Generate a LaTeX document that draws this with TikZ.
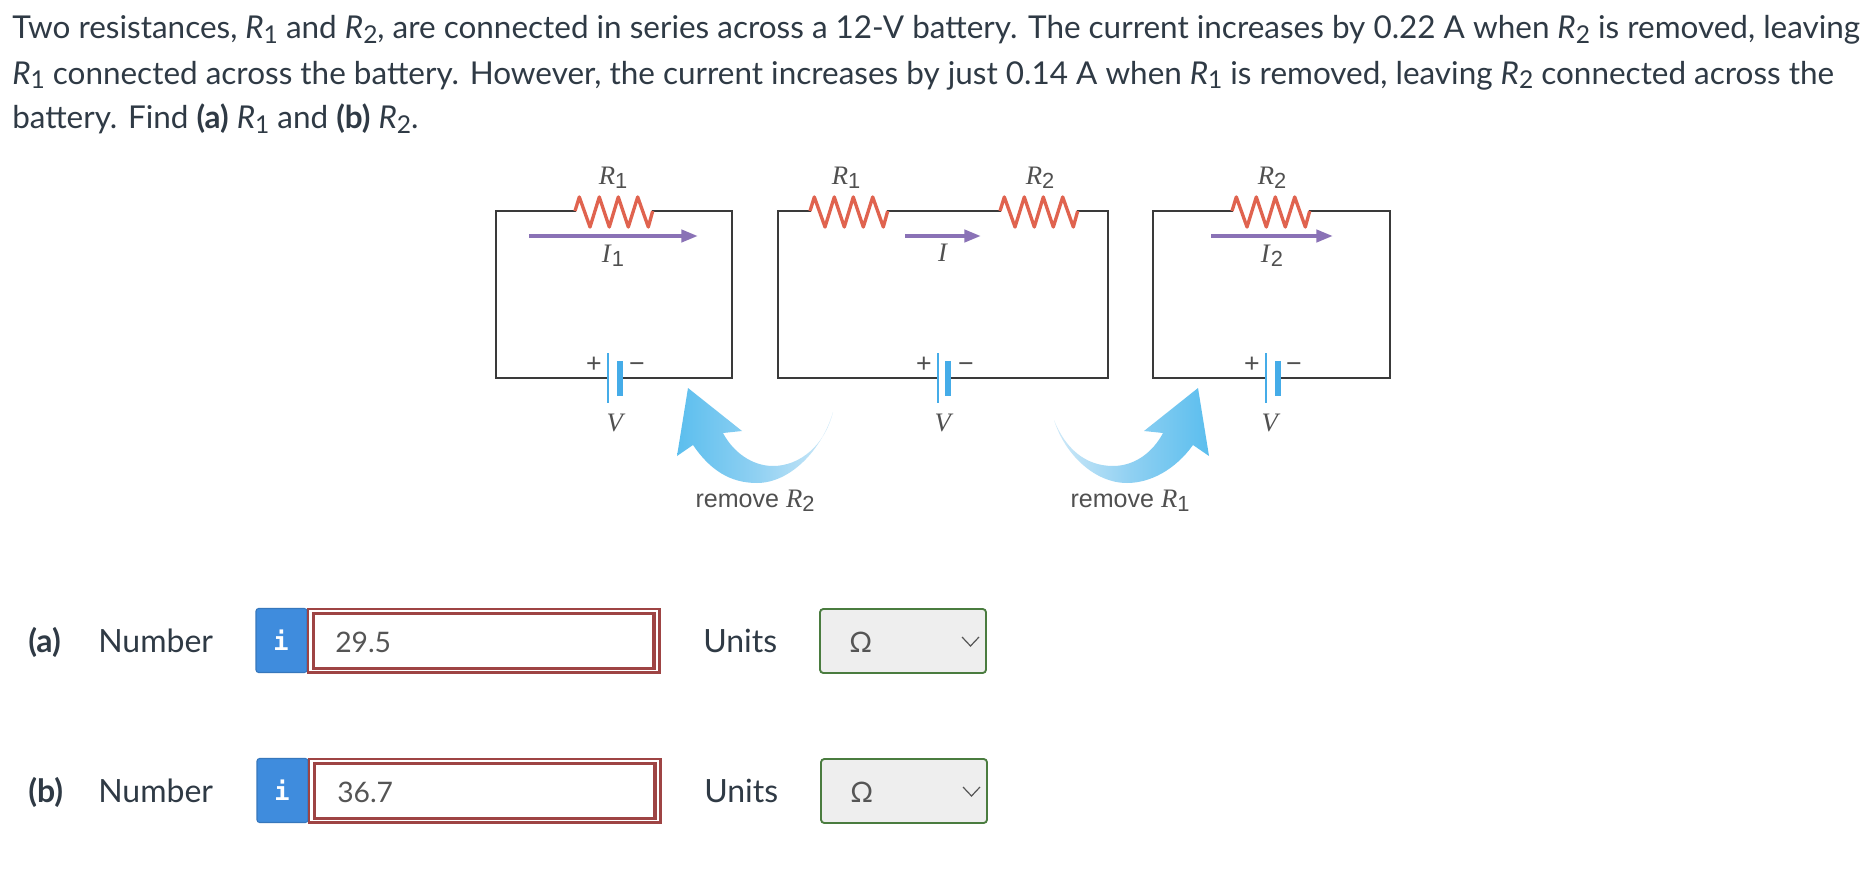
\documentclass[tikz,border=0pt]{standalone}
\usepackage{fontspec}
\setmainfont{Lato}
\newfontfamily\figserif{Liberation Serif}
\newfontfamily\figsans{Liberation Sans}
\newfontfamily\iconfont{DejaVu Sans Mono}
\usetikzlibrary{arrows.meta}
\definecolor{ink}{HTML}{2F3A45}
\definecolor{wirec}{HTML}{3A3A3A}
\definecolor{resc}{HTML}{E0634F}
\definecolor{purp}{HTML}{8A72B6}
\definecolor{batt}{HTML}{45ACE8}
\definecolor{figtxt}{HTML}{505050}
\definecolor{btnblue}{HTML}{3F8CDD}
\definecolor{redb}{HTML}{9E4444}
\definecolor{greenb}{HTML}{4A7C3F}
\definecolor{selbg}{HTML}{EEEEEE}
\definecolor{valc}{HTML}{555555}
\definecolor{swa}{HTML}{4AAEE8}
\definecolor{swb}{HTML}{5BBEEE}
\definecolor{swc}{HTML}{8FD0F2}
\definecolor{swd}{HTML}{CFE9F8}
\pgfdeclarehorizontalshading{swooshL}{100bp}{color(0bp)=(swa); color(25bp)=(swb); color(50bp)=(swc); color(75bp)=(swd); color(100bp)=(white)}
\pgfdeclarehorizontalshading{swooshR}{100bp}{color(0bp)=(white); color(25bp)=(swd); color(50bp)=(swc); color(75bp)=(swb); color(100bp)=(swa)}
\newcommand{\qR}[1]{\textit{R}\raisebox{-0.28ex}{\scalebox{.78}{#1}}}
\newcommand{\fR}[2]{\textit{#1}\raisebox{-0.35ex}{\scalebox{.82}{\figsans #2}}}
\newcommand{\zig}{(0,211) -- (4.3,197) -- (15,227) -- (24.3,197) -- (34.3,227) -- (43.3,197) -- (53.3,227) -- (62.7,197) -- (73.3,227) -- (77.7,211)}
\tikzset{
  x=.75pt, y=-.75pt,
  qtext/.style={anchor=base west, inner sep=0, text=ink, font=\fontsize{23.6pt}{27pt}\selectfont},
  rowtext/.style={anchor=base west, inner sep=0, text=ink, font=\fontsize{24pt}{27pt}\selectfont},
  wire/.style={draw=wirec, line width=2.2pt, line cap=rect, line join=miter},
  resist/.style={draw=resc, line width=2.5pt, line join=round},
  current/.style={draw=purp, line width=3pt, -{Triangle[length=12.5pt,width=9pt]}},
  thinplate/.style={draw=batt, line width=1.3pt},
  thickplate/.style={draw=batt, line width=4.5pt},
  figlabel/.style={inner sep=0, text=figtxt, font=\fontsize{20pt}{22pt}\selectfont\figserif},
  sign/.style={inner sep=0, text=figtxt, font=\fontsize{20pt}{22pt}\selectfont\figsans},
  rmlabel/.style={inner sep=0, text=figtxt, font=\fontsize{18.8pt}{22pt}\selectfont\figsans},
  infobtn/.style={fill=btnblue, draw=btnblue!85!black, line width=.8pt, rounded corners=2pt},
  outerred/.style={draw=redb, line width=1.9pt},
  innerred/.style={draw=redb, line width=2.4pt, fill=white},
  selectbox/.style={draw=greenb, fill=selbg, line width=1.4pt, rounded corners=2.5pt},
  chevron/.style={draw=valc, line width=.9pt},
  val/.style={anchor=base west, inner sep=0, text=valc, font=\fontsize{21.2pt}{25pt}\selectfont},
}
\begin{document}
\begin{tikzpicture}
\useasboundingbox (0,0) rectangle (1876,880);
\fill[white] (0,0) rectangle (1876,880);
% question
\node[qtext] (l1) at (12,39) {Two resistances, \qR{1} and \qR{2}, are connected in series across a 12-V battery. The current increases by 0.22 A when \qR{2} is removed, leaving};
\node[qtext] (l2) at (12,84.5) {\qR{1} connected across the battery. However, the current increases by just 0.14 A when \qR{1} is removed, leaving \qR{2} connected across the};
\node[qtext] (l3) at (12,129) {battery. Find \textbf{(a)} \qR{1} and \textbf{(b)} \qR{2}.};
% circuit 1
\draw[wire] (575,211) -- (496,211) -- (496,378) -- (608,378);
\draw[wire] (620,378) -- (732,378) -- (732,211) -- (653,211);
\draw[resist,shift={(575,0)}] \zig;
\coordinate (c1s) at (529,236); \coordinate (c1e) at (698,236);
\draw[current] (c1s) -- (c1e);
\node[figlabel] (r1a) at (613,178) {\fR{R}{1}};
\node[figlabel] (i1) at (613,256) {\fR{I}{1}};
\draw[thinplate] (608,353) -- (608,403);
\draw[thickplate] (620,361) -- (620,396);
\node[sign] (p1) at (594,365) {+};
\node[sign] (m1) at (637,368) {\textminus};
\node[figlabel] (v1) at (616,423) {\textit{V}};
% circuit 2
\draw[wire] (810,211) -- (778,211) -- (778,378) -- (938,378);
\draw[wire] (948,378) -- (1108,378) -- (1108,211) -- (1078,211);
\draw[wire] (888,211) -- (1000,211);
\draw[resist,shift={(810,0)}] \zig;
\draw[resist,shift={(1000,0)}] \zig;
\coordinate (c2s) at (905,236); \coordinate (c2e) at (981,236);
\draw[current] (c2s) -- (c2e);
\node[figlabel] (r1b) at (846,178) {\fR{R}{1}};
\node[figlabel] (r2b) at (1040,178) {\fR{R}{2}};
\node[figlabel] (i0) at (943,253) {\textit{I}};
\draw[thinplate] (938,353) -- (938,403);
\draw[thickplate] (948,361) -- (948,396);
\node[sign] (p2) at (924,365) {+};
\node[sign] (m2) at (966,368) {\textminus};
\node[figlabel] (v2) at (944,423) {\textit{V}};
% circuit 3
\draw[wire] (1232,211) -- (1153,211) -- (1153,378) -- (1266,378);
\draw[wire] (1278,378) -- (1390,378) -- (1390,211) -- (1310,211);
\draw[resist,shift={(1232,0)}] \zig;
\coordinate (c3s) at (1211,236); \coordinate (c3e) at (1333,236);
\draw[current] (c3s) -- (c3e);
\node[figlabel] (r2c) at (1272,178) {\fR{R}{2}};
\node[figlabel] (i2) at (1272,256) {\fR{I}{2}};
\draw[thinplate] (1266,353) -- (1266,403);
\draw[thickplate] (1278,361) -- (1278,396);
\node[sign] (p3) at (1252,365) {+};
\node[sign] (m3) at (1294,368) {\textminus};
\node[figlabel] (v3) at (1271,423) {\textit{V}};
% swooshes
\shade[shading=swooshL] (688,388) -- (677,456) -- (693,445) .. controls (710,470) and (730,483) .. (757,483) .. controls (790,483) and (822,450) .. (833,412) .. controls (825,445) and (800,466) .. (773,466) .. controls (752,466) and (733,452) .. (723,433) -- (742,431) -- cycle;
\shade[shading=swooshR] (1198,388) -- (1209,456) -- (1193,445) .. controls (1175,470) and (1150,483) .. (1127,483) .. controls (1095,483) and (1065,455) .. (1054,420) .. controls (1065,448) and (1085,466) .. (1113,466) .. controls (1135,466) and (1153,452) .. (1163,433) -- (1144,431) -- cycle;
\node[rmlabel] (rm2) at (755,501) {remove {\figserif\fontsize{20pt}{22pt}\selectfont\fR{R}{2}}};
\node[rmlabel] (rm1) at (1130,501) {remove {\figserif\fontsize{20pt}{22pt}\selectfont\fR{R}{1}}};
% row a
\node[rowtext] (la) at (28,652) {\textbf{(a)}};
\node[rowtext] (na) at (98,652) {Number};
\draw[infobtn] (256,608.5) rectangle (307,672.5);
\node[inner sep=0, text=white, font=\fontsize{19pt}{20pt}\selectfont\iconfont\bfseries] (ia) at (281,640) {i};
\draw[outerred,fill=white] (308,609) rectangle (659.5,672.5);
\draw[innerred] (313.5,613.5) rectangle (654,668.5);
\node[val] (va) at (335,652) {29.5};
\node[rowtext] (ua) at (703,652) {Units};
\draw[selectbox] (820,609) rectangle (986,673);
\node[val] (oa) at (849,652) {Ω};
\draw[chevron] (962,637) -- (970.5,646) -- (979,637);
% row b
\node[rowtext] (lb) at (28,802) {\textbf{(b)}};
\node[rowtext] (nb) at (98,802) {Number};
\draw[infobtn] (257,758.5) rectangle (308,822.5);
\node[inner sep=0, text=white, font=\fontsize{19pt}{20pt}\selectfont\iconfont\bfseries] (ib) at (282,790) {i};
\draw[outerred,fill=white] (309,759) rectangle (660.5,822.5);
\draw[innerred] (314.5,763.5) rectangle (655,818.5);
\node[val] (vb) at (337,802) {36.7};
\node[rowtext] (ub) at (704,802) {Units};
\draw[selectbox] (821,759) rectangle (987,823);
\node[val] (ob) at (850,802) {Ω};
\draw[chevron] (963,787) -- (971.5,796) -- (980,787);
\end{tikzpicture}
\end{document}
